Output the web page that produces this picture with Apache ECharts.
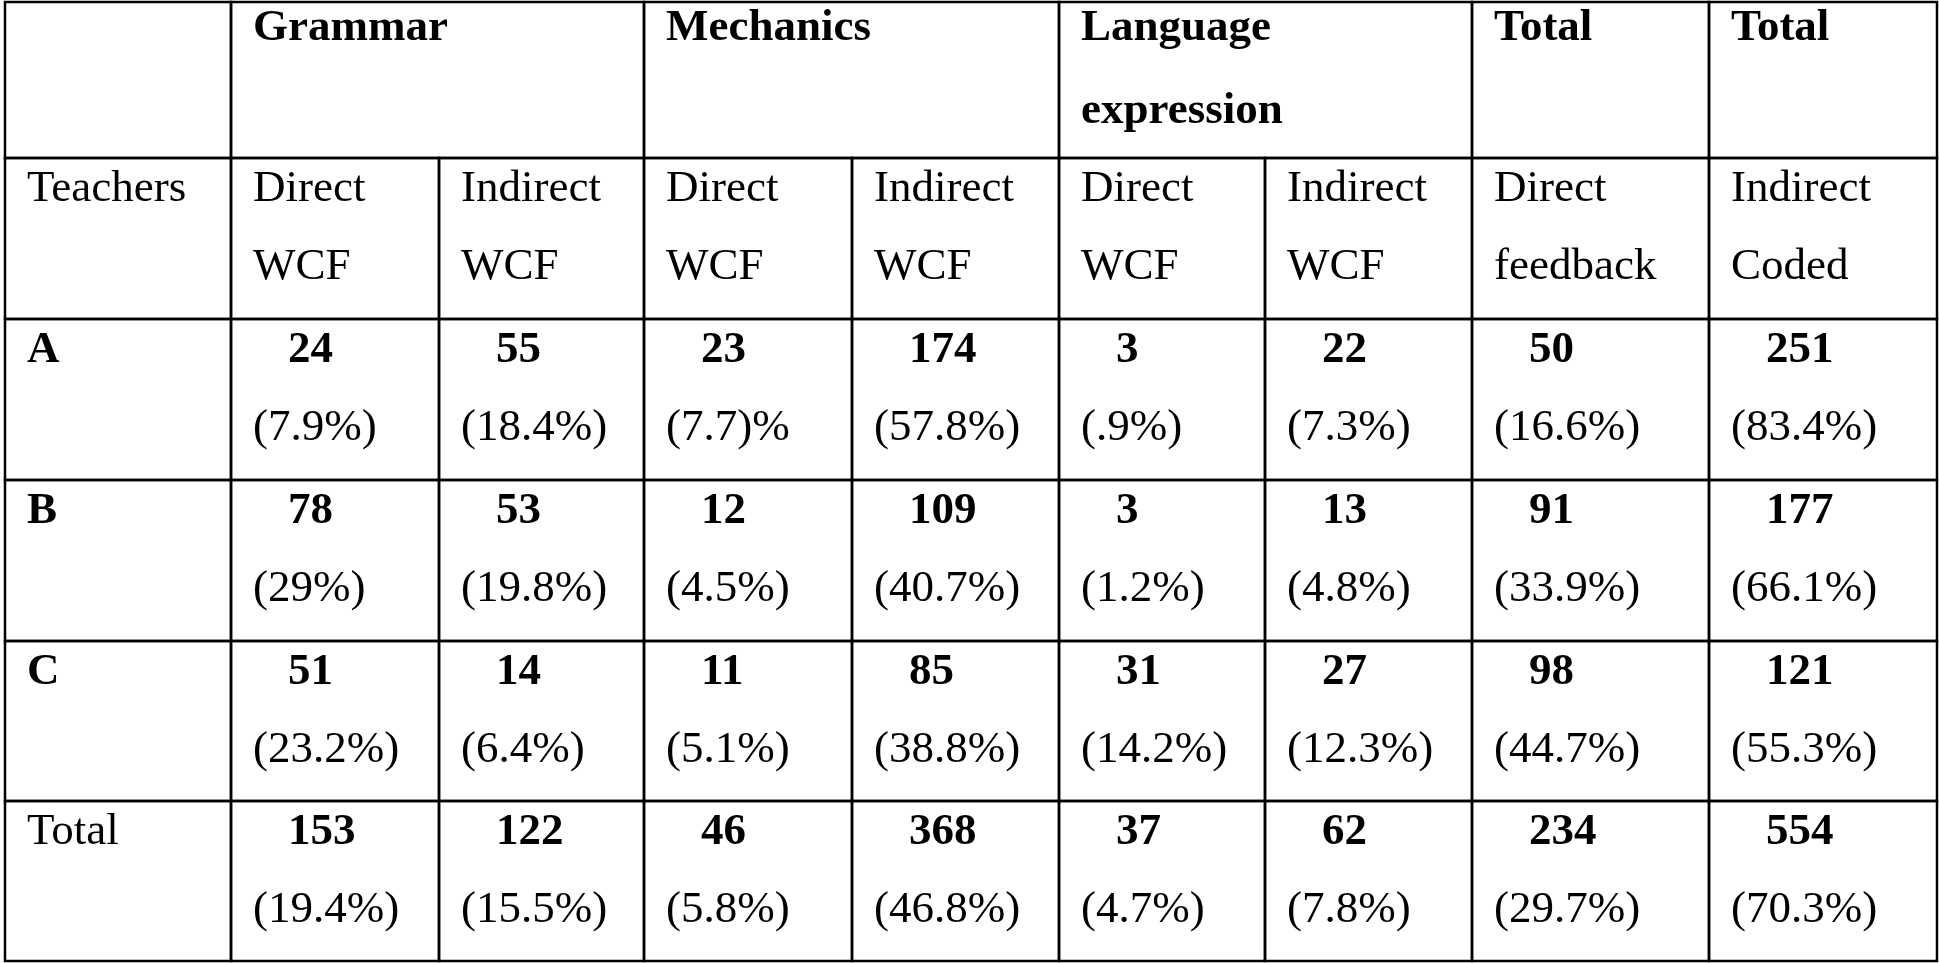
<!DOCTYPE html>
<html><head><meta charset="utf-8">
<script src="https://cdn.jsdelivr.net/npm/echarts@6/dist/echarts.min.js"></script>
<style>html,body{margin:0;padding:0;background:#fff}#c{width:1939px;height:963px}</style>
</head><body><div id="c"></div>
<script>
const colEdges = [5, 231, 439, 644, 852, 1059, 1265, 1472, 1709, 1937];
const rowEdges = [2, 158, 319, 480, 641, 801, 961];
const groupHeaders = [["", 0, 1], ["Grammar", 1, 3], ["Mechanics", 3, 5], ["Language\nexpression", 5, 7], ["Total", 7, 8], ["Total", 8, 9]];
const subHeaders = ["Teachers", "Direct\nWCF", "Indirect\nWCF", "Direct\nWCF", "Indirect\nWCF", "Direct\nWCF", "Indirect\nWCF", "Direct\nfeedback", "Indirect\nCoded"];
const teachers = ["A", "B", "C", "Total"];
const counts = [
  [24, 55, 23, 174, 3, 22, 50, 251],
  [78, 53, 12, 109, 3, 13, 91, 177],
  [51, 14, 11, 85, 31, 27, 98, 121],
  [153, 122, 46, 368, 37, 62, 234, 554]
];
const percents = [
  ["(7.9%)", "(18.4%)", "(7.7)%", "(57.8%)", "(.9%)", "(7.3%)", "(16.6%)", "(83.4%)"],
  ["(29%)", "(19.8%)", "(4.5%)", "(40.7%)", "(1.2%)", "(4.8%)", "(33.9%)", "(66.1%)"],
  ["(23.2%)", "(6.4%)", "(5.1%)", "(38.8%)", "(14.2%)", "(12.3%)", "(44.7%)", "(55.3%)"],
  ["(19.4%)", "(15.5%)", "(5.8%)", "(46.8%)", "(4.7%)", "(7.8%)", "(29.7%)", "(70.3%)"]
];
// cell: [c0, c1, r0, r1, line1, line2, bold1, bold2, indent1]
const cells = [];
groupHeaders.forEach(g => { const p = g[0].split("\n"); cells.push([g[1], g[2], 0, 1, p[0] || "", p[1] || "", 1, 1, 0]); });
subHeaders.forEach((s, i) => { const p = s.split("\n"); cells.push([i, i + 1, 1, 2, p[0], p[1] || "", 0, 0, 0]); });
teachers.forEach((t, r) => {
  cells.push([0, 1, r + 2, r + 3, t, "", t === "Total" ? 0 : 1, 0, 0]);
  counts[r].forEach((v, c) => cells.push([c + 1, c + 2, r + 2, r + 3, String(v), percents[r][c], 1, 0, 1]));
});
const font = '"Liberation Serif", "Times New Roman", serif';
const chart = echarts.init(document.getElementById('c'));
chart.setOption({
  animation: false,
  grid: {left: 0, right: 0, top: 0, bottom: 0},
  xAxis: {type: 'value', min: 0, max: 1939, show: false},
  yAxis: {type: 'value', min: 0, max: 963, inverse: true, show: false},
  series: [{
    type: 'custom',
    coordinateSystem: 'cartesian2d',
    data: cells.map((c, i) => [c[0], c[1], c[2], c[3], i]),
    renderItem: function (params, api) {
      const c = cells[api.value(4)];
      const p0 = api.coord([colEdges[c[0]], rowEdges[c[2]]]);
      const p1 = api.coord([colEdges[c[1]], rowEdges[c[3]]]);
      const x = p0[0] + 22;
      const children = [{
        type: 'rect', shape: {x: p0[0], y: p0[1], width: p1[0] - p0[0], height: p1[1] - p0[1]},
        style: {fill: 'none', stroke: '#000', lineWidth: 2.5}
      }];
      const yOff = c[2] === 0 ? 26 : 31;
      [[c[4], c[6], yOff, c[8] ? 35 : 0], [c[5], c[7], 109, 0]].forEach(([t, b, dy, ind]) => {
        if (!t) return;
        children.push({type: 'text', style: {
          text: t, x: x + ind, y: p0[1] + dy, fill: '#000',
          font: (b ? 'bold ' : '') + '45px ' + font,
          verticalAlign: 'middle', align: 'left'
        }});
      });
      return {type: 'group', children: children};
    }
  }]
});
</script></body></html>
